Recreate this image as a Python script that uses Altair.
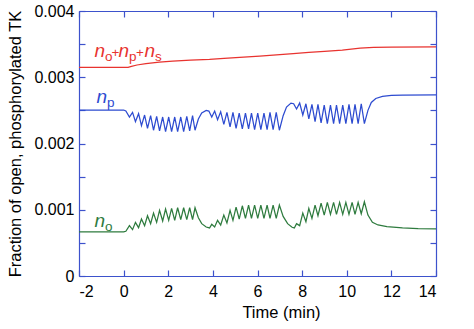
import altair as alt
import pandas as pd

# ---------------- data ----------------
# n_o + n_p + n_s (red)
red_t = [-2.0, 0.2, 0.35, 0.6, 1.0, 1.6, 2.2, 3.0, 3.85, 4.5, 5.2, 6.1, 7.0, 7.6,
         8.3, 9.0, 9.8, 10.6, 11.2, 12.0, 14.0]
red_v = [0.00315, 0.00315, 0.003165, 0.003185, 0.003205, 0.00323, 0.003245, 0.00326,
         0.00327, 0.003285, 0.0033, 0.00332, 0.00334, 0.003355, 0.003375, 0.00339,
         0.00341, 0.00344, 0.00345, 0.003455, 0.003457]

# n_p (blue)
blue_t = [-2.0, 0.0, 0.10,
          0.26, 0.40, 0.53, 0.67, 0.80, 0.94, 1.07, 1.21, 1.34, 1.48, 1.61, 1.75,
          1.88, 2.02, 2.15, 2.29, 2.42, 2.56, 2.69, 2.83, 2.96, 3.09, 3.20,
          3.35, 3.50, 3.70, 3.82,
          3.95, 4.08, 4.21, 4.35, 4.49, 4.63, 4.77, 4.90, 5.04, 5.18, 5.32, 5.46,
          5.60, 5.73, 5.87, 6.01, 6.15, 6.29, 6.43, 6.56, 6.70, 6.84, 6.98,
          7.15, 7.30, 7.50, 7.62,
          7.75, 7.89, 8.03, 8.17, 8.30, 8.44, 8.58, 8.71, 8.85, 8.99, 9.13, 9.27,
          9.41, 9.54, 9.68, 9.82, 9.96, 10.10, 10.24, 10.37, 10.51, 10.65, 10.79,
          10.95, 11.10, 11.30, 11.60, 12.0, 12.5, 14.0]
blue_v = [0.002505, 0.002505, 0.00249,
          0.00240, 0.00247, 0.00233, 0.00245, 0.00227, 0.00243, 0.00223, 0.00242,
          0.00220, 0.00241, 0.00219, 0.00240, 0.00218, 0.00240, 0.00218, 0.00240,
          0.00218, 0.00240, 0.00218, 0.00241, 0.00219, 0.00242, 0.00220,
          0.00237, 0.00246, 0.00250, 0.00249,
          0.00240, 0.00249, 0.00236, 0.00248, 0.00229, 0.00247, 0.00225, 0.00247,
          0.00223, 0.00246, 0.00222, 0.00246, 0.00222, 0.00246, 0.00221, 0.00246,
          0.00221, 0.00246, 0.00221, 0.00247, 0.00221, 0.00247, 0.00220,
          0.00242, 0.00255, 0.00261, 0.00260,
          0.00252, 0.00261, 0.00243, 0.00260, 0.00237, 0.00259, 0.00233, 0.00259,
          0.00231, 0.00258, 0.00230, 0.00258, 0.00230, 0.00258, 0.00230, 0.00258,
          0.00230, 0.00259, 0.00230, 0.00259, 0.00230, 0.00260, 0.00230,
          0.00250, 0.00262, 0.00268, 0.00271, 0.002725, 0.00273, 0.002735]

# n_o (green)
green_t = [-2.0, 0.0, 0.10,
           0.26, 0.40, 0.53, 0.67, 0.80, 0.94, 1.07, 1.21, 1.34, 1.48, 1.61, 1.75,
           1.88, 2.02, 2.15, 2.29, 2.42, 2.56, 2.69, 2.83, 2.96, 3.09, 3.20,
           3.35, 3.50, 3.70, 3.85,
           3.95, 4.08, 4.21, 4.35, 4.49, 4.63, 4.77, 4.90, 5.04, 5.18, 5.32, 5.46,
           5.60, 5.73, 5.87, 6.01, 6.15, 6.29, 6.43, 6.56, 6.70, 6.84, 6.98,
           7.15, 7.35, 7.55, 7.65,
           7.75, 7.89, 8.03, 8.17, 8.30, 8.44, 8.58, 8.71, 8.85, 8.99, 9.13, 9.27,
           9.41, 9.54, 9.68, 9.82, 9.96, 10.10, 10.24, 10.37, 10.51, 10.65, 10.79,
           10.95, 11.15, 11.40, 11.80, 12.5, 13.2, 14.0]
green_v = [0.000665, 0.000665, 0.000675,
           0.00076, 0.00070, 0.00081, 0.00073, 0.00086, 0.00076, 0.00091, 0.00079,
           0.00095, 0.00081, 0.00099, 0.00083, 0.00101, 0.00084, 0.00102, 0.00084,
           0.00103, 0.00085, 0.00103, 0.00085, 0.00103, 0.00085, 0.00103,
           0.00088, 0.00079, 0.00074, 0.000725,
           0.00078, 0.00074, 0.00084, 0.00077, 0.00092, 0.00080, 0.00099, 0.00084,
           0.00104, 0.00086, 0.00106, 0.00087, 0.00107, 0.00087, 0.00107, 0.00087,
           0.00107, 0.00087, 0.00107, 0.00087, 0.00107, 0.00087, 0.00107,
           0.00090, 0.00079, 0.000735, 0.000725,
           0.00079, 0.00076, 0.00095, 0.00082, 0.00102, 0.00087, 0.00107, 0.00091,
           0.00110, 0.00092, 0.00111, 0.00093, 0.00111, 0.00093, 0.00111, 0.00093,
           0.00111, 0.00093, 0.00111, 0.00093, 0.00111, 0.00094, 0.00112,
           0.00092, 0.00081, 0.00077, 0.000745, 0.000725, 0.000715, 0.00071]

series_names = ["total", "np", "no"]
series_colors = ["#e8332f", "#2d4bd0", "#2e7b3e"]

x_ticks = [-2, 0, 2, 4, 6, 8, 10, 12, 14]
y_labels = [0, 0.001, 0.002, 0.003, 0.004]
y_minor = [0, 0.0005, 0.001, 0.0015, 0.002, 0.0025, 0.003, 0.0035, 0.004]

# curve labels (anchor in data units)
label_t = [-1.30, -1.22, -1.30]
label_v = [0.00331, 0.002616, 0.00074]

# ---------------- styling ----------------
W, H = 357, 265
AX = "#3d52cc"
FONT = "Liberation Sans"

rows = []
for name, ts, vs in [("total", red_t, red_v), ("np", blue_t, blue_v), ("no", green_t, green_v)]:
    rows += [{"series": name, "t": t, "v": v} for t, v in zip(ts, vs)]
df = pd.DataFrame(rows)

lab_df = pd.DataFrame({"series": series_names, "t": label_t, "v": label_v})

xs = alt.Scale(domain=[-2, 14], nice=False, zero=False)
ys = alt.Scale(domain=[0, 0.004], nice=False, zero=False)
cs = alt.Scale(domain=series_names, range=series_colors)

lines = alt.Chart(df).mark_line(strokeWidth=1.25).encode(
    x=alt.X("t:Q", scale=xs, axis=alt.Axis(
        orient="bottom", values=x_ticks, ticks=False, tickSize=0, labelPadding=7,
        labelExpr="datum.value + ''", title="Time (min)", titlePadding=5,
        titleAnchor="middle", titleAlign="center", titleX=202,
        titleFontWeight="normal", titleFontSize=16.5, domain=True)),
    y=alt.Y("v:Q", scale=ys, axis=alt.Axis(
        orient="left", values=y_labels, ticks=False, tickSize=0, labelPadding=5,
        labelExpr="datum.value == 0 ? '0' : format(datum.value, '.3f')",
        title="Fraction of open, phosphorylated TK", titleX=-56, titleY=H / 2,
        titleFontWeight="normal", domain=True)),
    color=alt.Color("series:N", scale=cs, legend=None),
)

# inward ticks on bottom & left edges
ticks_a = alt.Chart(df).mark_line(strokeOpacity=0).encode(
    x=alt.X("t:Q", scale=xs, axis=alt.Axis(
        orient="top", offset=-H, values=x_ticks, labels=False, domain=False,
        tickSize=6, title=None)),
    y=alt.Y("v:Q", scale=ys, axis=alt.Axis(
        orient="right", offset=-W, values=y_minor, labels=False, domain=False,
        tickSize=6, title=None)),
    detail="series:N",
)
# frame top & right with inward ticks
ticks_b = alt.Chart(df).mark_line(strokeOpacity=0).encode(
    x=alt.X("t:Q", scale=xs, axis=alt.Axis(
        orient="bottom", offset=-H, values=x_ticks, labels=False, domain=True,
        tickSize=6, title=None)),
    y=alt.Y("v:Q", scale=ys, axis=alt.Axis(
        orient="left", offset=-W, values=y_minor, labels=False, domain=True,
        tickSize=6, title=None)),
    detail="series:N",
)

pieces = {
    "total": [("n", True, 0, 0), ("o", False, 10.5, 4.5), ("+", False, 17, 0),
              ("n", True, 24, 0), ("p", False, 34.5, 4.5), ("+", False, 41.5, 0),
              ("n", True, 50, 0), ("s", False, 60.5, 4.5)],
    "np": [("n", True, 0, 0), ("p", False, 10.5, 4.5)],
    "no": [("n", True, 0, 0), ("o", False, 10.5, 4.5)],
}

label_layers = []
for name, col in zip(series_names, series_colors):
    for txt, ital, dx, dy in pieces[name]:
        label_layers.append(
            alt.Chart(lab_df).transform_filter(alt.datum.series == name).mark_text(
                text=txt, dx=dx, dy=dy, align="left", baseline="alphabetic",
                font=FONT, fontSize=19 if ital else 13.5,
                fontStyle="italic" if ital else "normal", color=col,
            ).encode(
                x=alt.X("t:Q", scale=xs, axis=None),
                y=alt.Y("v:Q", scale=ys, axis=None),
            )
        )

chart = alt.layer(lines, ticks_a, ticks_b, *label_layers).resolve_axis(
    x="independent", y="independent"
).properties(
    width=W, height=H,
    autosize=alt.AutoSizeParams(type="none"),
    padding={"left": 79, "top": 11, "right": 38, "bottom": 53},
    background="white",
).configure_view(stroke=None).configure_axis(
    grid=False, domainColor=AX, domainWidth=1.2, tickColor=AX, tickWidth=1.2,
    labelColor="black", labelFont=FONT, labelFontSize=16,
    titleColor="black", titleFont=FONT, titleFontSize=16.5, titleFontWeight="normal",
)

chart.save("out.html", embed_options={"renderer": "svg", "actions": False})
